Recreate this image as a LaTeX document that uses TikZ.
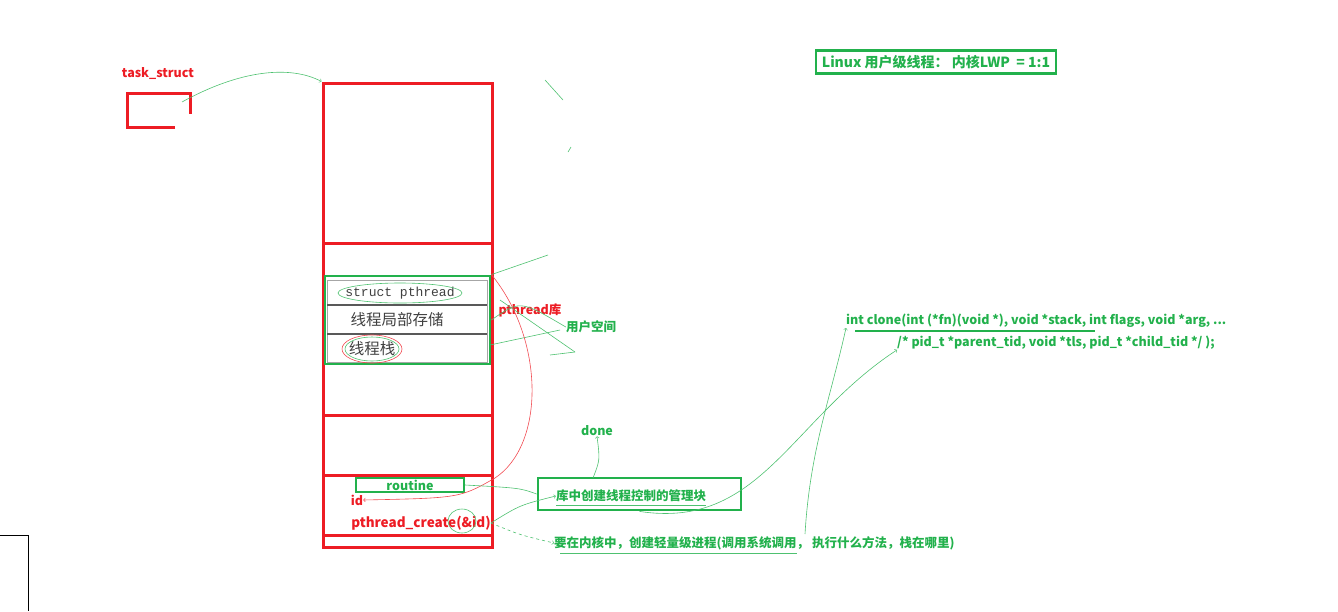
\documentclass[tikz,border=0pt]{standalone}
\usepackage{fontspec}
\setmainfont{Noto Sans CJK SC}
\setmonofont{Liberation Mono}
\definecolor{pred}{HTML}{ED1C24}
\definecolor{pgreen}{HTML}{22B14C}
\tikzset{
  redtxt/.style={text=pred, font=\bfseries\fontsize{12.5}{15}\selectfont, inner sep=0pt},
  greentxt/.style={text=pgreen, font=\bfseries\fontsize{12.5}{15}\selectfont, inner sep=0pt},
  redbox/.style={draw=pred, line width=3pt},
  greenbox/.style={draw=pgreen, line width=2.8pt, inner sep=0pt},
  pen/.style={draw=pgreen!80, line width=0.6pt},
  redpen/.style={draw=pred!80, line width=0.6pt},
}
\begin{document}
\begin{tikzpicture}[x=1pt,y=-1pt]
\useasboundingbox (0,0) rectangle (1338,611);
% task_struct
\node[redtxt] (ts) at (158,74) {task\_struct};
\draw[redbox] (175,127) -- (127,127) -- (127,93) -- (190,93) -- (190,114);
\coordinate (tsout) at (182,102);
% memory of the process
\node[redbox, minimum width=169pt, minimum height=464pt, inner sep=0pt] (mem) at (407.5,315) {};
\foreach \y in {243,415,475,535}
  \draw[redbox] (323,\y) -- (492,\y);
% the pthread block
\draw[gray!70, line width=1pt] (327,280) rectangle (487,362);
\draw[black!65, line width=1.8pt] (327,305) -- (487,305);
\draw[black!65, line width=1.8pt] (327,334) -- (487,334);
\node[font=\ttfamily\fontsize{13}{15}\selectfont, text=black!75] (sp) at (400,293) {struct pthread};
\node[font=\fontsize{15.5}{18}\selectfont, text=black!75] (tls) at (397,320) {线程局部存储};
\node[font=\fontsize{15.5}{18}\selectfont, text=black!75] (stk) at (372,349) {线程栈};
\node[greenbox, minimum width=165pt, minimum height=88pt] (pbox) at (407.5,320) {};
\node[redtxt] (lib) at (530,310) {pthread库};
\node[greentxt] (usr) at (591,327) {用户空间};
% bottom part
\node[greenbox, line width=2.2pt, minimum width=108pt, minimum height=14pt, text=pgreen, font=\bfseries\fontsize{12.5}{15}\selectfont] (rt) at (410,485) {routine};
\node[redtxt] (id) at (357,500) {id};
\node[redtxt, font=\bfseries\fontsize{13.5}{16}\selectfont] (pc) at (421,523) {pthread\_create(\&id)};
\node[greenbox, minimum width=203pt, minimum height=32pt] (tcb) at (639.5,494) {};
\node[greentxt] (tcbt) at (631,496) {库中创建线程控制的管理块};
\node[greentxt] (done) at (597,431) {done};
\node[greentxt, anchor=west] (kern) at (554,543) {要在内核中，创建轻量级进程(调用系统调用， 执行什么方法，栈在哪里)};
\node[greentxt, anchor=west] (cl1) at (846,321) {int clone(int (*fn)(void *), void *stack, int flags, void *arg, ...};
\node[greentxt, anchor=west] (cl2) at (897,343) {/* pid\_t *parent\_tid, void *tls, pid\_t *child\_tid */ );};
\node[greenbox, line width=2.2pt, minimum width=240pt, minimum height=23pt, text=pgreen, font=\bfseries\fontsize{14}{16}\selectfont] (ratio) at (936,62) {Linux 用户级线程： 内核LWP\ \ = 1:1};
\draw[line width=1pt] (0,535) -- (28,535) -- (28,611);
% hand drawn strokes
\coordinate (k1) at (805,534);
\coordinate (d1) at (593,478);
\draw[pen, ->] (tsout) .. controls (240,70) and (290,65) .. (mem.north west);
\draw[pen] (545,80) to (563,100);
\draw[pen] (568,152) to (571,147);
\draw[pen] (sp) ellipse (62pt and 10pt);
\draw[pen] (stk) ellipse (27pt and 12pt);
\draw[redpen] (stk) ellipse (30pt and 14pt);
\draw[pen] (pbox.north east) to (548,255);
\draw[pen] (pbox.east) .. controls (520,300) .. (usr.west);
\draw[pen] (490,345) to (560,330);
\draw[pen] (500,300) to (575,352);
\draw[pen] (575,352) to (550,355);
\draw[redpen, ->] (pbox.north east) .. controls (545,340) and (545,445) .. (495,478)
  .. controls (460,498) .. (id.east);
\draw[pen] (rt.east) .. controls (520,488) .. (tcb.west);
\draw[pen, ->] (pc.east) .. controls (520,505) .. (tcbt.west);
\draw[pen, dashed, ->] (pc.east) .. controls (520,535) .. (kern.west);
\draw[pen, ->] (d1) .. controls (600,460) .. (done.south);
\draw[pen, ->] (tcb.south) .. controls (760,530) and (790,420) .. (cl2.south west);
\draw[pen, ->] (k1) .. controls (810,450) and (830,400) .. (cl1.south west);
\draw[pen] (462,521) ellipse (14pt and 12pt);
\draw[pgreen, line width=1.2pt] (855,331) -- (1095,331);
\draw[pen] (556,505) -- (706,505);
\draw[pen] (560,553) -- (797,553);
\end{tikzpicture}
\end{document}
